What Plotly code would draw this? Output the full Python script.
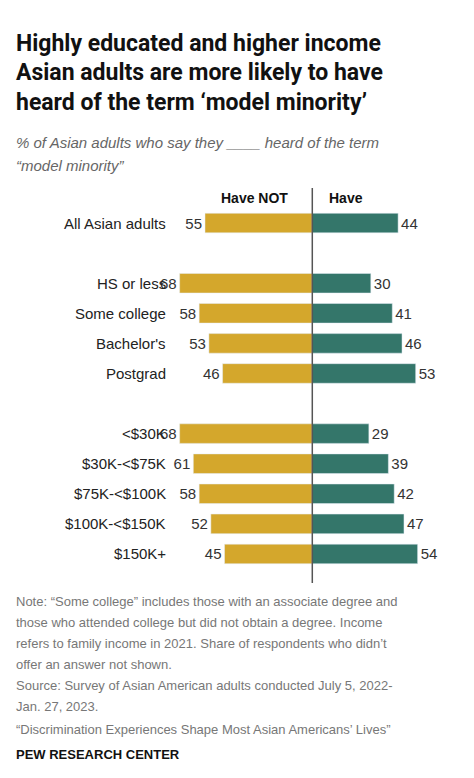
import plotly.graph_objects as go

categories = ["All Asian adults", "HS or less", "Some college", "Bachelor's", "Postgrad",
              "<$30K", "$30K-<$75K", "$75K-<$100K", "$100K-<$150K", "$150K+"]
have_not = [55, 68, 58, 53, 46, 68, 61, 58, 52, 45]
have = [44, 30, 41, 46, 53, 29, 39, 42, 47, 54]
rows = [0, 2, 3, 4, 5, 7, 8, 9, 10, 11]

GOLD = "#d4a72c"
TEAL = "#34766a"
FONT = "Liberation Sans, Arial, sans-serif"
TOP, BOT = 191, 570

fig = go.Figure()
fig.add_trace(go.Bar(y=rows, x=[-v for v in have_not], orientation="h", marker_color=GOLD,
                     width=0.65, text=[str(v) for v in have_not], textposition="outside",
                     textfont=dict(size=15, color="#333"), cliponaxis=False))
fig.add_trace(go.Bar(y=rows, x=have, orientation="h", marker_color=TEAL,
                     width=0.65, text=[str(v) for v in have], textposition="outside",
                     textfont=dict(size=15, color="#333"), cliponaxis=False))

ann = []
for c, r in zip(categories, rows):
    ann.append(dict(x=-74, y=r, xref="x", yref="y", text=c, showarrow=False,
                    xanchor="right", font=dict(size=15, color="#222")))

def ptxt(text, ypx, size, color="#222", xpx=6, anchor="left", bold=False, italic=False, family=FONT):
    if bold:
        text = "<b>" + text + "</b>"
    if italic:
        text = "<i>" + text + "</i>"
    ann.append(dict(x=xpx / 474, y=(BOT - ypx) / (BOT - TOP), xref="paper", yref="paper", text=text,
                    showarrow=False, xanchor=anchor, yanchor="middle",
                    font=dict(size=size, color=color, family=family)))

TF = "Liberation Sans Narrow, Arial Narrow, Roboto, sans-serif"
ptxt("Highly educated and higher income", 36, 23, "#111", bold=True, family=TF)
ptxt("Asian adults are more likely to have", 65, 23, "#111", bold=True, family=TF)
ptxt("heard of the term ‘model minority’", 94, 23, "#111", bold=True, family=TF)
ptxt("% of Asian adults who say they ____ heard of the term", 134, 15, "#666", italic=True)
ptxt("“model minority”", 157, 15, "#666", italic=True)
ptxt("Have NOT", 190, 14, "#111", xpx=247, anchor="center", bold=True)
ptxt("Have", 190, 14, "#111", xpx=338, anchor="center", bold=True)
notes = ["Note: “Some college” includes those with an associate degree and",
         "those who attended college but did not obtain a degree. Income",
         "refers to family income in 2021. Share of respondents who didn’t",
         "offer an answer not shown.",
         "Source: Survey of Asian American adults conducted July 5, 2022-",
         "Jan. 27, 2023.",
         "“Discrimination Experiences Shape Most Asian Americans’ Lives”"]
ys = [593, 614, 635, 656, 677, 698, 721]
for t, y in zip(notes, ys):
    ptxt(t, y, 13, "#777")
ptxt("PEW RESEARCH CENTER", 746, 13, "#111", bold=True)

fig.update_layout(
    width=474, height=778, margin=dict(l=0, r=0, t=TOP, b=778 - BOT),
    paper_bgcolor="white", plot_bgcolor="white", showlegend=False,
    barmode="overlay", font=dict(family=FONT),
    xaxis=dict(range=[-156, 87], visible=False, fixedrange=True),
    yaxis=dict(range=[11.8, -0.8], visible=False),
    annotations=ann,
    shapes=[dict(type="line", xref="x", yref="paper", x0=0, x1=0,
                 y0=(BOT - 575) / (BOT - TOP), y1=(BOT - 180) / (BOT - TOP),
                 line=dict(color="#555", width=1.5))],
)
fig.write_html("out.html")
